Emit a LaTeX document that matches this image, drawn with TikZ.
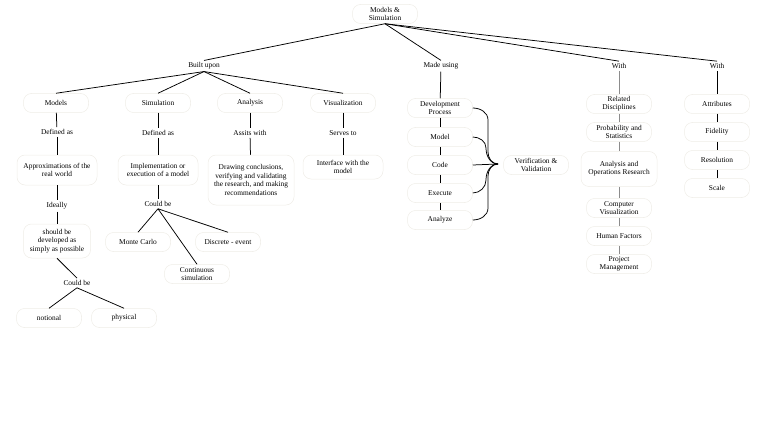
\documentclass[tikz,border=0pt]{standalone}
\usepackage{fontspec}
\setmainfont{Liberation Serif}
\definecolor{boxline}{RGB}{238,236,230}
\definecolor{withline}{RGB}{140,140,140}
\tikzset{
  box/.style={draw=boxline, line width=0.5pt, rounded corners=8pt, align=center,
    minimum width=65pt, minimum height=19pt, inner sep=1pt,
    font=\fontsize{7.4}{8.4}\selectfont},
  widebox/.style={box, minimum width=80pt},
  lbl/.style={inner sep=2pt, font=\fontsize{7.4}{8.4}\selectfont},
  link/.style={line width=0.75pt},
  greylink/.style={line width=0.75pt, color=withline}
}
\begin{document}
\begin{tikzpicture}[x=1pt,y=-1pt]
    \useasboundingbox (0,0) rectangle (768,433);
    % top of the map
    \node[box] (root) at (385,14) {Models \&\\Simulation};
    \node[lbl] (built) at (204,66) {Built upon};
    \node[lbl] (made) at (441,66) {Made using};
    \node[lbl] (withA) at (619,66) {With};
    \node[lbl] (withB) at (717,66) {With};
    \draw[link] (root.south) -- (built.north);
    \draw[link] (root.south) -- (made.north);
    \draw[link] (root.south) -- (withA.north);
    \draw[link] (root.south) -- (withB.north);
    % built upon
    \node[box] (models) at (56,103) {Models};
    \node[box] (simul) at (158,103) {Simulation};
    \node[box] (analysis) at (250,103) {Analysis};
    \node[box] (visual) at (343,103) {Visualization};
    \foreach \n in {models,simul,analysis,visual}
        \draw[link] (built.south) -- (\n.north);
    % models
    \node[lbl] (mdef) at (57,132) {Defined as};
    \node[widebox, minimum height=30pt] (approx) at (57,170) {Approximations of the\\real world};
    \node[lbl] (ideally) at (57,206) {Ideally};
    \node[box, minimum width=67pt, minimum height=34pt] (simply) at (57,241) {should be\\developed as\\simply as possible};
    \node[lbl] (mcould) at (77,283) {Could be};
    \node[box] (notional) at (49,318) {notional};
    \node[box] (physical) at (124,318) {physical};
    \draw[link] (models) -- (mdef);
    \draw[link] (mdef) -- (approx);
    \draw[link] (approx) -- (ideally);
    \draw[link] (ideally) -- (simply);
    \draw[link] (simply.south) -- (mcould.north);
    \draw[link] (mcould.south) -- (notional.north);
    \draw[link] (mcould.south) -- (physical.north);
    % simulation
    \node[lbl] (sdef) at (158,133) {Defined as};
    \node[widebox, minimum height=30pt] (implem) at (158,170) {Implementation or\\execution of a model};
    \node[lbl] (scould) at (158,204) {Could be};
    \node[box] (monte) at (138,242) {Monte Carlo};
    \node[box] (contin) at (197,274) {Continuous\\simulation};
    \node[box] (discrete) at (228,242) {Discrete - event};
    \draw[link] (simul) -- (sdef);
    \draw[link] (sdef) -- (implem);
    \draw[link] (implem) -- (scould);
    \foreach \n in {monte,contin,discrete}
        \draw[link] (scould.south) -- (\n.north);
    % analysis
    \node[lbl] (assits) at (250,133) {Assits with};
    \node[box, minimum width=86pt, minimum height=50pt] (drawing) at (251,180) {Drawing conclusions,\\verifying and validating\\the research, and making\\recommendations};
    \draw[link] (analysis) -- (assits);
    \draw[link] (assits) -- (drawing);
    % visualization
    \node[lbl] (serves) at (343,133) {Serves to};
    \node[widebox, minimum height=24pt] (interface) at (343,167) {Interface with the\\model};
    \draw[link] (visual) -- (serves);
    \draw[link] (serves) -- (interface);
    % made using
    \node[box] (devp) at (440,108) {Development\\Process};
    \node[box] (model) at (440,137) {Model};
    \node[box] (code) at (440,165) {Code};
    \node[box] (execute) at (440,193) {Execute};
    \node[box] (analyze) at (440,220) {Analyze};
    \node[box] (verif) at (536,165) {Verification \&\\Validation};
    \coordinate (hub) at (498,164);
    \draw[link] (made) -- (devp);
    \draw[link] (devp) -- (model);
    \draw[link] (model) -- (code);
    \draw[link] (code) -- (execute);
    \draw[link] (execute) -- (analyze);
    % the brace
    \draw[link] (devp.east) to[out=0,in=90] (488,120) -- (488,152) to[out=-90,in=180] (hub);
    \draw[link] (model.east) to[out=0,in=90] (486,148) to[out=-90,in=180] (hub);
    \draw[link] (code.east) -- (hub);
    \draw[link] (execute.east) to[out=0,in=-90] (486,180) to[out=90,in=180] (hub);
    \draw[link] (analyze.east) to[out=0,in=-90] (488,208) -- (488,176) to[out=90,in=180] (hub);
    % with, related disciplines
    \node[box] (related) at (619,104) {Related\\Disciplines};
    \node[box] (prob) at (619,132) {Probability and\\Statistics};
    \node[box, minimum width=76pt, minimum height=35pt] (opres) at (619,169) {Analysis and\\Operations Research};
    \node[box] (compvis) at (619,208) {Computer\\Visualization};
    \node[box] (human) at (619,236) {Human Factors};
    \node[box] (project) at (619,264) {Project\\Management};
    \draw[greylink] (withA) -- (related);
    \draw[greylink] (related) -- (prob);
    \draw[greylink] (prob) -- (opres);
    \draw[greylink] (opres) -- (compvis);
    \draw[greylink] (compvis) -- (human);
    \draw[greylink] (human) -- (project);
    % with, attributes
    \node[box] (attrib) at (717,104) {Attributes};
    \node[box] (fidelity) at (717,132) {Fidelity};
    \node[box] (resol) at (717,160) {Resolution};
    \node[box] (scale) at (717,188) {Scale};
    \draw[link] (withB) -- (attrib);
    \draw[link] (attrib) -- (fidelity);
    \draw[link] (fidelity) -- (resol);
    \draw[link] (resol) -- (scale);
\end{tikzpicture}
\end{document}
